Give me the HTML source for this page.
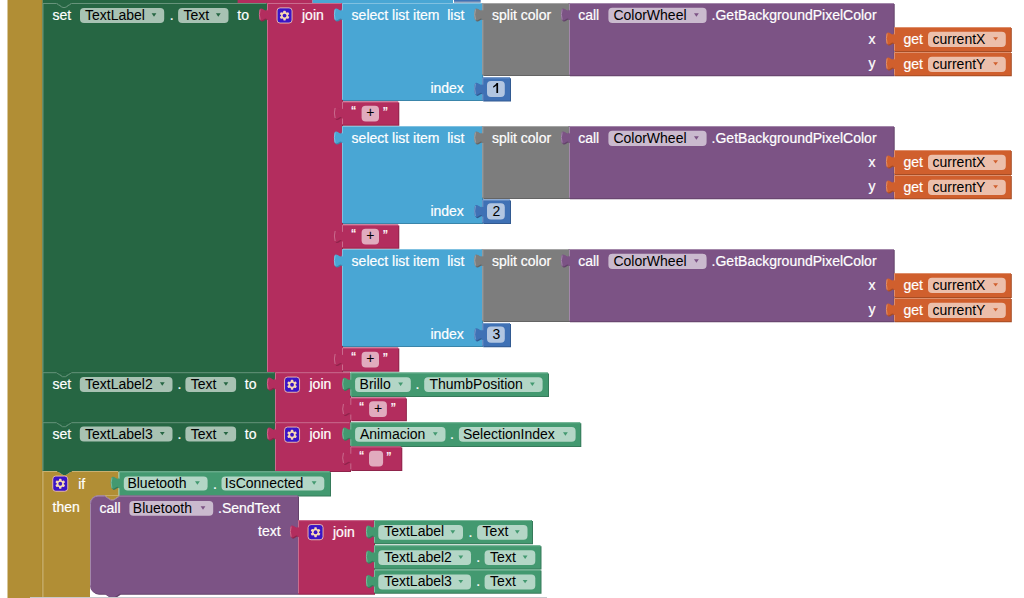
<!DOCTYPE html>
<html><head><meta charset="utf-8"><style>
html,body{margin:0;padding:0;background:#fff;width:1024px;height:598px;overflow:hidden}
svg{display:block}
text{font-family:"Liberation Sans",sans-serif;}
</style></head><body>
<svg width="1024" height="598" viewBox="0 0 1024 598">
<rect x="7.5" y="0" width="35" height="598" fill="#b18e35"/>
<rect x="41.6" y="0" width="0.8" height="598" fill="#a8842a"/>
<rect x="42.5" y="0" width="195.5" height="3" fill="#266643"/>
<rect x="237.6" y="0" width="75" height="3" fill="#b32d5e"/>
<rect x="312.6" y="0" width="140.4" height="3" fill="#49a6d4"/>
<rect x="454" y="0" width="26.7" height="1.6" fill="#3f71b5"/>
<rect x="454" y="1.6" width="26.7" height="0.9" fill="#325a91"/>
<path d="M 42.5,3 H 56.5 l 6,4 3,0 6,-4 H 267 V 372.2 H 42.5 Z" fill="#1e5236" transform="translate(1,1)"/>
<path d="M 42.5,3 H 56.5 l 6,4 3,0 6,-4 H 267 V 372.2 H 42.5 Z" fill="#266643"/>
<path d="M 43,3.5 H 56.5 l 6,4 3,0 6,-4 H 266.5 M 43,3.5 V 371.7" fill="none" stroke="#67947b" stroke-width="1"/>
<path d="M 56.5,2.99 l 6,4 3,0 6,-4 z" fill="#266643"/>
<text x="52.5" y="19.5" fill="#fff" font-size="14" stroke="#fff" stroke-width="0.2">set</text>
<rect x="80" y="7.9" width="84.2" height="15.1" rx="4" ry="4" fill="#fff" fill-opacity="0.6"/>
<text x="85" y="19.5" fill="#000" font-size="14">TextLabel</text>
<path d="M 151.6,13.35 h 4.8 l -2.4,3.4 z" fill="#266643"/>
<text x="169.8" y="19.5" fill="#fff" font-size="14" stroke="#fff" stroke-width="0.2">.</text>
<rect x="178.1" y="7.9" width="50.4" height="15.1" rx="4" ry="4" fill="#fff" fill-opacity="0.6"/>
<text x="183.5" y="19.5" fill="#000" font-size="14">Text</text>
<path d="M 215.9,13.35 h 4.8 l -2.4,3.4 z" fill="#266643"/>
<text x="237.3" y="19.5" fill="#fff" font-size="14" stroke="#fff" stroke-width="0.2">to</text>
<path d="M 267,3 H 342 V 372.2 H 267 V 21.4 c 0,-9.2 -8,7.36 -8,-6.9 s 8,2.3 8,-6.9 Z" fill="#8f244b" transform="translate(1,1)"/>
<path d="M 267,3 H 342 V 372.2 H 267 V 21.4 c 0,-9.2 -8,7.36 -8,-6.9 s 8,2.3 8,-6.9 Z" fill="#b32d5e"/>
<path d="M 267.5,3.5 H 341.5 M 267.5,371.7 V 20.02 m -7.36,-0.46 q -1.52,-5.06 0,-10.12 m 7.36,0.92 V 3.5" fill="none" stroke="#ca6c8e" stroke-width="1"/>
<rect x="277.05" y="7.85" width="15" height="15.2" rx="3" ry="3" fill="#3a14c6" stroke="#f1c3b0" stroke-width="0.9"/>
<g transform="translate(284.55,15.55)" fill="#f8d9b2"><circle r="3.5"/><rect x="-1.25" y="-4.9" width="2.5" height="2.6" rx="0.6" transform="rotate(0)"/><rect x="-1.25" y="-4.9" width="2.5" height="2.6" rx="0.6" transform="rotate(60)"/><rect x="-1.25" y="-4.9" width="2.5" height="2.6" rx="0.6" transform="rotate(120)"/><rect x="-1.25" y="-4.9" width="2.5" height="2.6" rx="0.6" transform="rotate(180)"/><rect x="-1.25" y="-4.9" width="2.5" height="2.6" rx="0.6" transform="rotate(240)"/><rect x="-1.25" y="-4.9" width="2.5" height="2.6" rx="0.6" transform="rotate(300)"/><circle r="1.9" fill="#3a14c6"/></g>
<text x="302" y="19.5" fill="#fff" font-size="14" stroke="#fff" stroke-width="0.2">join</text>
<path d="M 342,3 H 482.2 V 100 H 342 V 21.4 c 0,-9.2 -8,7.36 -8,-6.9 s 8,2.3 8,-6.9 Z" fill="#3a85aa" transform="translate(1,1)"/>
<path d="M 342,3 H 482.2 V 100 H 342 V 21.4 c 0,-9.2 -8,7.36 -8,-6.9 s 8,2.3 8,-6.9 Z" fill="#49a6d4"/>
<path d="M 342.5,3.5 H 481.7 M 342.5,99.5 V 20.02 m -7.36,-0.46 q -1.52,-5.06 0,-10.12 m 7.36,0.92 V 3.5" fill="none" stroke="#80c1e1" stroke-width="1"/>
<text x="351.6" y="19.5" fill="#fff" font-size="14" stroke="#fff" stroke-width="0.2">select list item</text>
<text x="447.2" y="19.5" fill="#fff" font-size="14" stroke="#fff" stroke-width="0.2">list</text>
<text x="430.4" y="93" fill="#fff" font-size="14" stroke="#fff" stroke-width="0.2">index</text>
<path d="M 482.3,3 H 569 V 75 H 482.3 V 21.4 c 0,-9.2 -8,7.36 -8,-6.9 s 8,2.3 8,-6.9 Z" fill="#646464" transform="translate(1,1)"/>
<path d="M 482.3,3 H 569 V 75 H 482.3 V 21.4 c 0,-9.2 -8,7.36 -8,-6.9 s 8,2.3 8,-6.9 Z" fill="#7d7d7d"/>
<path d="M 482.8,3.5 H 568.5 M 482.8,74.5 V 20.02 m -7.36,-0.46 q -1.52,-5.06 0,-10.12 m 7.36,0.92 V 3.5" fill="none" stroke="#a4a4a4" stroke-width="1"/>
<text x="492" y="19.5" fill="#fff" font-size="14" stroke="#fff" stroke-width="0.2">split color</text>
<path d="M 569,3 H 893.7 V 75.2 H 569 V 21.4 c 0,-9.2 -8,7.36 -8,-6.9 s 8,2.3 8,-6.9 Z" fill="#63426a" transform="translate(1,1)"/>
<path d="M 569,3 H 893.7 V 75.2 H 569 V 21.4 c 0,-9.2 -8,7.36 -8,-6.9 s 8,2.3 8,-6.9 Z" fill="#7c5385"/>
<path d="M 569.5,3.5 H 893.2 M 569.5,74.7 V 20.02 m -7.36,-0.46 q -1.52,-5.06 0,-10.12 m 7.36,0.92 V 3.5" fill="none" stroke="#a387aa" stroke-width="1"/>
<text x="578.2" y="19.5" fill="#fff" font-size="14" stroke="#fff" stroke-width="0.2">call</text>
<rect x="608.4" y="7.7" width="98.2" height="15.3" rx="4" ry="4" fill="#fff" fill-opacity="0.6"/>
<text x="613.4" y="19.5" fill="#000" font-size="14">ColorWheel</text>
<path d="M 694,13.25 h 4.8 l -2.4,3.4 z" fill="#7c5385"/>
<text x="711.6" y="19.5" fill="#fff" font-size="14" stroke="#fff" stroke-width="0.2">.GetBackgroundPixelColor</text>
<text x="868.4" y="43.5" fill="#fff" font-size="14" stroke="#fff" stroke-width="0.2">x</text>
<text x="868.4" y="68" fill="#fff" font-size="14" stroke="#fff" stroke-width="0.2">y</text>
<path d="M 894,27 H 1010.8 V 51 H 894 V 45.4 c 0,-9.2 -8,7.36 -8,-6.9 s 8,2.3 8,-6.9 Z" fill="#a64c24" transform="translate(1,1)"/>
<path d="M 894,27 H 1010.8 V 51 H 894 V 45.4 c 0,-9.2 -8,7.36 -8,-6.9 s 8,2.3 8,-6.9 Z" fill="#d05f2d"/>
<path d="M 894.5,27.5 H 1010.3 M 894.5,50.5 V 44.02 m -7.36,-0.46 q -1.52,-5.06 0,-10.12 m 7.36,0.92 V 27.5" fill="none" stroke="#de8f6c" stroke-width="1"/>
<text x="903.5" y="43.9" fill="#fff" font-size="14" stroke="#fff" stroke-width="0.2">get</text>
<rect x="928" y="31.7" width="77.8" height="15.2" rx="4" ry="4" fill="#fff" fill-opacity="0.6"/>
<text x="932.5" y="43.9" fill="#000" font-size="14">currentX</text>
<path d="M 993.2,37.2 h 4.8 l -2.4,3.4 z" fill="#d05f2d"/>
<path d="M 894,52 H 1010.8 V 75.2 H 894 V 70.4 c 0,-9.2 -8,7.36 -8,-6.9 s 8,2.3 8,-6.9 Z" fill="#a64c24" transform="translate(1,1)"/>
<path d="M 894,52 H 1010.8 V 75.2 H 894 V 70.4 c 0,-9.2 -8,7.36 -8,-6.9 s 8,2.3 8,-6.9 Z" fill="#d05f2d"/>
<path d="M 894.5,52.5 H 1010.3 M 894.5,74.7 V 69.02 m -7.36,-0.46 q -1.52,-5.06 0,-10.12 m 7.36,0.92 V 52.5" fill="none" stroke="#de8f6c" stroke-width="1"/>
<text x="903.5" y="68.9" fill="#fff" font-size="14" stroke="#fff" stroke-width="0.2">get</text>
<rect x="928" y="56.7" width="77.8" height="15.2" rx="4" ry="4" fill="#fff" fill-opacity="0.6"/>
<text x="932.5" y="68.9" fill="#000" font-size="14">currentY</text>
<path d="M 993.2,62.2 h 4.8 l -2.4,3.4 z" fill="#d05f2d"/>
<path d="M 482.3,77.3 H 510 V 100.6 H 482.3 V 95.7 c 0,-9.2 -8,7.36 -8,-6.9 s 8,2.3 8,-6.9 Z" fill="#325a91" transform="translate(1,1)"/>
<path d="M 482.3,77.3 H 510 V 100.6 H 482.3 V 95.7 c 0,-9.2 -8,7.36 -8,-6.9 s 8,2.3 8,-6.9 Z" fill="#3f71b5"/>
<path d="M 482.8,77.8 H 509.5 M 482.8,100.1 V 94.32 m -7.36,-0.46 q -1.52,-5.06 0,-10.12 m 7.36,0.92 V 77.8" fill="none" stroke="#799ccb" stroke-width="1"/>
<rect x="487" y="81" width="17.8" height="16.1" rx="4" ry="4" fill="#fff" fill-opacity="0.6"/>
<path d="M 496.5,83.1 L 498.1,83.1 L 498.1,93 L 496.4,93 L 496.4,85.6 C 495.6,86.4 494.3,87.2 493.2,87.7 L 493.2,86.2 C 494.7,85.5 495.9,84.3 496.5,83.1 Z" fill="#000"/>
<path d="M 342,101.5 H 398.3 V 124.7 H 342 V 119.9 c 0,-9.2 -8,7.36 -8,-6.9 s 8,2.3 8,-6.9 Z" fill="#8f244b" transform="translate(1,1)"/>
<path d="M 342,101.5 H 398.3 V 124.7 H 342 V 119.9 c 0,-9.2 -8,7.36 -8,-6.9 s 8,2.3 8,-6.9 Z" fill="#b32d5e"/>
<path d="M 342.5,102 H 397.8 M 342.5,124.2 V 118.52 m -7.36,-0.46 q -1.52,-5.06 0,-10.12 m 7.36,0.92 V 102" fill="none" stroke="#ca6c8e" stroke-width="1"/>
<text x="351.3" y="116.2" fill="#fff" font-size="14" stroke="#fff" stroke-width="0.2">“</text>
<text x="382.9" y="117.1" fill="#fff" font-size="14" stroke="#fff" stroke-width="0.2">”</text>
<rect x="361.6" y="105.7" width="17.4" height="15.7" rx="4" ry="4" fill="#fff" fill-opacity="0.6"/>
<text x="370.3" y="116.7" fill="#000" font-size="14" text-anchor="middle">+</text>
<path d="M 342,126 H 482.2 V 223 H 342 V 144.4 c 0,-9.2 -8,7.36 -8,-6.9 s 8,2.3 8,-6.9 Z" fill="#3a85aa" transform="translate(1,1)"/>
<path d="M 342,126 H 482.2 V 223 H 342 V 144.4 c 0,-9.2 -8,7.36 -8,-6.9 s 8,2.3 8,-6.9 Z" fill="#49a6d4"/>
<path d="M 342.5,126.5 H 481.7 M 342.5,222.5 V 143.02 m -7.36,-0.46 q -1.52,-5.06 0,-10.12 m 7.36,0.92 V 126.5" fill="none" stroke="#80c1e1" stroke-width="1"/>
<text x="351.6" y="142.5" fill="#fff" font-size="14" stroke="#fff" stroke-width="0.2">select list item</text>
<text x="447.2" y="142.5" fill="#fff" font-size="14" stroke="#fff" stroke-width="0.2">list</text>
<text x="430.4" y="216" fill="#fff" font-size="14" stroke="#fff" stroke-width="0.2">index</text>
<path d="M 482.3,126 H 569 V 198 H 482.3 V 144.4 c 0,-9.2 -8,7.36 -8,-6.9 s 8,2.3 8,-6.9 Z" fill="#646464" transform="translate(1,1)"/>
<path d="M 482.3,126 H 569 V 198 H 482.3 V 144.4 c 0,-9.2 -8,7.36 -8,-6.9 s 8,2.3 8,-6.9 Z" fill="#7d7d7d"/>
<path d="M 482.8,126.5 H 568.5 M 482.8,197.5 V 143.02 m -7.36,-0.46 q -1.52,-5.06 0,-10.12 m 7.36,0.92 V 126.5" fill="none" stroke="#a4a4a4" stroke-width="1"/>
<text x="492" y="142.5" fill="#fff" font-size="14" stroke="#fff" stroke-width="0.2">split color</text>
<path d="M 569,126 H 893.7 V 198.2 H 569 V 144.4 c 0,-9.2 -8,7.36 -8,-6.9 s 8,2.3 8,-6.9 Z" fill="#63426a" transform="translate(1,1)"/>
<path d="M 569,126 H 893.7 V 198.2 H 569 V 144.4 c 0,-9.2 -8,7.36 -8,-6.9 s 8,2.3 8,-6.9 Z" fill="#7c5385"/>
<path d="M 569.5,126.5 H 893.2 M 569.5,197.7 V 143.02 m -7.36,-0.46 q -1.52,-5.06 0,-10.12 m 7.36,0.92 V 126.5" fill="none" stroke="#a387aa" stroke-width="1"/>
<text x="578.2" y="142.5" fill="#fff" font-size="14" stroke="#fff" stroke-width="0.2">call</text>
<rect x="608.4" y="130.7" width="98.2" height="15.3" rx="4" ry="4" fill="#fff" fill-opacity="0.6"/>
<text x="613.4" y="142.5" fill="#000" font-size="14">ColorWheel</text>
<path d="M 694,136.25 h 4.8 l -2.4,3.4 z" fill="#7c5385"/>
<text x="711.6" y="142.5" fill="#fff" font-size="14" stroke="#fff" stroke-width="0.2">.GetBackgroundPixelColor</text>
<text x="868.4" y="166.5" fill="#fff" font-size="14" stroke="#fff" stroke-width="0.2">x</text>
<text x="868.4" y="191" fill="#fff" font-size="14" stroke="#fff" stroke-width="0.2">y</text>
<path d="M 894,150 H 1010.8 V 174 H 894 V 168.4 c 0,-9.2 -8,7.36 -8,-6.9 s 8,2.3 8,-6.9 Z" fill="#a64c24" transform="translate(1,1)"/>
<path d="M 894,150 H 1010.8 V 174 H 894 V 168.4 c 0,-9.2 -8,7.36 -8,-6.9 s 8,2.3 8,-6.9 Z" fill="#d05f2d"/>
<path d="M 894.5,150.5 H 1010.3 M 894.5,173.5 V 167.02 m -7.36,-0.46 q -1.52,-5.06 0,-10.12 m 7.36,0.92 V 150.5" fill="none" stroke="#de8f6c" stroke-width="1"/>
<text x="903.5" y="166.9" fill="#fff" font-size="14" stroke="#fff" stroke-width="0.2">get</text>
<rect x="928" y="154.7" width="77.8" height="15.2" rx="4" ry="4" fill="#fff" fill-opacity="0.6"/>
<text x="932.5" y="166.9" fill="#000" font-size="14">currentX</text>
<path d="M 993.2,160.2 h 4.8 l -2.4,3.4 z" fill="#d05f2d"/>
<path d="M 894,175 H 1010.8 V 198.2 H 894 V 193.4 c 0,-9.2 -8,7.36 -8,-6.9 s 8,2.3 8,-6.9 Z" fill="#a64c24" transform="translate(1,1)"/>
<path d="M 894,175 H 1010.8 V 198.2 H 894 V 193.4 c 0,-9.2 -8,7.36 -8,-6.9 s 8,2.3 8,-6.9 Z" fill="#d05f2d"/>
<path d="M 894.5,175.5 H 1010.3 M 894.5,197.7 V 192.02 m -7.36,-0.46 q -1.52,-5.06 0,-10.12 m 7.36,0.92 V 175.5" fill="none" stroke="#de8f6c" stroke-width="1"/>
<text x="903.5" y="191.9" fill="#fff" font-size="14" stroke="#fff" stroke-width="0.2">get</text>
<rect x="928" y="179.7" width="77.8" height="15.2" rx="4" ry="4" fill="#fff" fill-opacity="0.6"/>
<text x="932.5" y="191.9" fill="#000" font-size="14">currentY</text>
<path d="M 993.2,185.2 h 4.8 l -2.4,3.4 z" fill="#d05f2d"/>
<path d="M 482.3,199.6 H 510 V 222.9 H 482.3 V 218 c 0,-9.2 -8,7.36 -8,-6.9 s 8,2.3 8,-6.9 Z" fill="#325a91" transform="translate(1,1)"/>
<path d="M 482.3,199.6 H 510 V 222.9 H 482.3 V 218 c 0,-9.2 -8,7.36 -8,-6.9 s 8,2.3 8,-6.9 Z" fill="#3f71b5"/>
<path d="M 482.8,200.1 H 509.5 M 482.8,222.4 V 216.62 m -7.36,-0.46 q -1.52,-5.06 0,-10.12 m 7.36,0.92 V 200.1" fill="none" stroke="#799ccb" stroke-width="1"/>
<rect x="487" y="203.3" width="17.8" height="16.1" rx="4" ry="4" fill="#fff" fill-opacity="0.6"/>
<text x="492.5" y="215.9" fill="#000" font-size="14">2</text>
<path d="M 342,224.5 H 398.3 V 247.7 H 342 V 242.9 c 0,-9.2 -8,7.36 -8,-6.9 s 8,2.3 8,-6.9 Z" fill="#8f244b" transform="translate(1,1)"/>
<path d="M 342,224.5 H 398.3 V 247.7 H 342 V 242.9 c 0,-9.2 -8,7.36 -8,-6.9 s 8,2.3 8,-6.9 Z" fill="#b32d5e"/>
<path d="M 342.5,225 H 397.8 M 342.5,247.2 V 241.52 m -7.36,-0.46 q -1.52,-5.06 0,-10.12 m 7.36,0.92 V 225" fill="none" stroke="#ca6c8e" stroke-width="1"/>
<text x="351.3" y="239.2" fill="#fff" font-size="14" stroke="#fff" stroke-width="0.2">“</text>
<text x="382.9" y="240.1" fill="#fff" font-size="14" stroke="#fff" stroke-width="0.2">”</text>
<rect x="361.6" y="228.7" width="17.4" height="15.7" rx="4" ry="4" fill="#fff" fill-opacity="0.6"/>
<text x="370.3" y="239.7" fill="#000" font-size="14" text-anchor="middle">+</text>
<path d="M 342,249 H 482.2 V 346 H 342 V 267.4 c 0,-9.2 -8,7.36 -8,-6.9 s 8,2.3 8,-6.9 Z" fill="#3a85aa" transform="translate(1,1)"/>
<path d="M 342,249 H 482.2 V 346 H 342 V 267.4 c 0,-9.2 -8,7.36 -8,-6.9 s 8,2.3 8,-6.9 Z" fill="#49a6d4"/>
<path d="M 342.5,249.5 H 481.7 M 342.5,345.5 V 266.02 m -7.36,-0.46 q -1.52,-5.06 0,-10.12 m 7.36,0.92 V 249.5" fill="none" stroke="#80c1e1" stroke-width="1"/>
<text x="351.6" y="265.5" fill="#fff" font-size="14" stroke="#fff" stroke-width="0.2">select list item</text>
<text x="447.2" y="265.5" fill="#fff" font-size="14" stroke="#fff" stroke-width="0.2">list</text>
<text x="430.4" y="339" fill="#fff" font-size="14" stroke="#fff" stroke-width="0.2">index</text>
<path d="M 482.3,249 H 569 V 321 H 482.3 V 267.4 c 0,-9.2 -8,7.36 -8,-6.9 s 8,2.3 8,-6.9 Z" fill="#646464" transform="translate(1,1)"/>
<path d="M 482.3,249 H 569 V 321 H 482.3 V 267.4 c 0,-9.2 -8,7.36 -8,-6.9 s 8,2.3 8,-6.9 Z" fill="#7d7d7d"/>
<path d="M 482.8,249.5 H 568.5 M 482.8,320.5 V 266.02 m -7.36,-0.46 q -1.52,-5.06 0,-10.12 m 7.36,0.92 V 249.5" fill="none" stroke="#a4a4a4" stroke-width="1"/>
<text x="492" y="265.5" fill="#fff" font-size="14" stroke="#fff" stroke-width="0.2">split color</text>
<path d="M 569,249 H 893.7 V 321.2 H 569 V 267.4 c 0,-9.2 -8,7.36 -8,-6.9 s 8,2.3 8,-6.9 Z" fill="#63426a" transform="translate(1,1)"/>
<path d="M 569,249 H 893.7 V 321.2 H 569 V 267.4 c 0,-9.2 -8,7.36 -8,-6.9 s 8,2.3 8,-6.9 Z" fill="#7c5385"/>
<path d="M 569.5,249.5 H 893.2 M 569.5,320.7 V 266.02 m -7.36,-0.46 q -1.52,-5.06 0,-10.12 m 7.36,0.92 V 249.5" fill="none" stroke="#a387aa" stroke-width="1"/>
<text x="578.2" y="265.5" fill="#fff" font-size="14" stroke="#fff" stroke-width="0.2">call</text>
<rect x="608.4" y="253.7" width="98.2" height="15.3" rx="4" ry="4" fill="#fff" fill-opacity="0.6"/>
<text x="613.4" y="265.5" fill="#000" font-size="14">ColorWheel</text>
<path d="M 694,259.25 h 4.8 l -2.4,3.4 z" fill="#7c5385"/>
<text x="711.6" y="265.5" fill="#fff" font-size="14" stroke="#fff" stroke-width="0.2">.GetBackgroundPixelColor</text>
<text x="868.4" y="289.5" fill="#fff" font-size="14" stroke="#fff" stroke-width="0.2">x</text>
<text x="868.4" y="314" fill="#fff" font-size="14" stroke="#fff" stroke-width="0.2">y</text>
<path d="M 894,273 H 1010.8 V 297 H 894 V 291.4 c 0,-9.2 -8,7.36 -8,-6.9 s 8,2.3 8,-6.9 Z" fill="#a64c24" transform="translate(1,1)"/>
<path d="M 894,273 H 1010.8 V 297 H 894 V 291.4 c 0,-9.2 -8,7.36 -8,-6.9 s 8,2.3 8,-6.9 Z" fill="#d05f2d"/>
<path d="M 894.5,273.5 H 1010.3 M 894.5,296.5 V 290.02 m -7.36,-0.46 q -1.52,-5.06 0,-10.12 m 7.36,0.92 V 273.5" fill="none" stroke="#de8f6c" stroke-width="1"/>
<text x="903.5" y="289.9" fill="#fff" font-size="14" stroke="#fff" stroke-width="0.2">get</text>
<rect x="928" y="277.7" width="77.8" height="15.2" rx="4" ry="4" fill="#fff" fill-opacity="0.6"/>
<text x="932.5" y="289.9" fill="#000" font-size="14">currentX</text>
<path d="M 993.2,283.2 h 4.8 l -2.4,3.4 z" fill="#d05f2d"/>
<path d="M 894,298 H 1010.8 V 321.2 H 894 V 316.4 c 0,-9.2 -8,7.36 -8,-6.9 s 8,2.3 8,-6.9 Z" fill="#a64c24" transform="translate(1,1)"/>
<path d="M 894,298 H 1010.8 V 321.2 H 894 V 316.4 c 0,-9.2 -8,7.36 -8,-6.9 s 8,2.3 8,-6.9 Z" fill="#d05f2d"/>
<path d="M 894.5,298.5 H 1010.3 M 894.5,320.7 V 315.02 m -7.36,-0.46 q -1.52,-5.06 0,-10.12 m 7.36,0.92 V 298.5" fill="none" stroke="#de8f6c" stroke-width="1"/>
<text x="903.5" y="314.9" fill="#fff" font-size="14" stroke="#fff" stroke-width="0.2">get</text>
<rect x="928" y="302.7" width="77.8" height="15.2" rx="4" ry="4" fill="#fff" fill-opacity="0.6"/>
<text x="932.5" y="314.9" fill="#000" font-size="14">currentY</text>
<path d="M 993.2,308.2 h 4.8 l -2.4,3.4 z" fill="#d05f2d"/>
<path d="M 482.3,322.9 H 510 V 346.2 H 482.3 V 341.3 c 0,-9.2 -8,7.36 -8,-6.9 s 8,2.3 8,-6.9 Z" fill="#325a91" transform="translate(1,1)"/>
<path d="M 482.3,322.9 H 510 V 346.2 H 482.3 V 341.3 c 0,-9.2 -8,7.36 -8,-6.9 s 8,2.3 8,-6.9 Z" fill="#3f71b5"/>
<path d="M 482.8,323.4 H 509.5 M 482.8,345.7 V 339.92 m -7.36,-0.46 q -1.52,-5.06 0,-10.12 m 7.36,0.92 V 323.4" fill="none" stroke="#799ccb" stroke-width="1"/>
<rect x="487" y="326.6" width="17.8" height="16.1" rx="4" ry="4" fill="#fff" fill-opacity="0.6"/>
<text x="492.5" y="339.2" fill="#000" font-size="14">3</text>
<path d="M 342,347.5 H 398.3 V 370.7 H 342 V 365.9 c 0,-9.2 -8,7.36 -8,-6.9 s 8,2.3 8,-6.9 Z" fill="#8f244b" transform="translate(1,1)"/>
<path d="M 342,347.5 H 398.3 V 370.7 H 342 V 365.9 c 0,-9.2 -8,7.36 -8,-6.9 s 8,2.3 8,-6.9 Z" fill="#b32d5e"/>
<path d="M 342.5,348 H 397.8 M 342.5,370.2 V 364.52 m -7.36,-0.46 q -1.52,-5.06 0,-10.12 m 7.36,0.92 V 348" fill="none" stroke="#ca6c8e" stroke-width="1"/>
<text x="351.3" y="362.2" fill="#fff" font-size="14" stroke="#fff" stroke-width="0.2">“</text>
<text x="382.9" y="363.1" fill="#fff" font-size="14" stroke="#fff" stroke-width="0.2">”</text>
<rect x="361.6" y="351.7" width="17.4" height="15.7" rx="4" ry="4" fill="#fff" fill-opacity="0.6"/>
<text x="370.3" y="362.7" fill="#000" font-size="14" text-anchor="middle">+</text>
<path d="M 42.5,372.2 H 56.5 l 6,4 3,0 6,-4 H 275 V 422.2 H 42.5 Z" fill="#1e5236" transform="translate(1,1)"/>
<path d="M 42.5,372.2 H 56.5 l 6,4 3,0 6,-4 H 275 V 422.2 H 42.5 Z" fill="#266643"/>
<path d="M 43,372.7 H 56.5 l 6,4 3,0 6,-4 H 274.5 M 43,372.7 V 421.7" fill="none" stroke="#67947b" stroke-width="1"/>
<path d="M 56.5,372.19 l 6,4 3,0 6,-4 z" fill="#266643"/>
<text x="52.5" y="388.9" fill="#fff" font-size="14" stroke="#fff" stroke-width="0.2">set</text>
<rect x="79.8" y="376.9" width="92.7" height="15.1" rx="4" ry="4" fill="#fff" fill-opacity="0.6"/>
<text x="85" y="388.9" fill="#000" font-size="14">TextLabel2</text>
<path d="M 159.9,382.35 h 4.8 l -2.4,3.4 z" fill="#266643"/>
<text x="177.5" y="388.9" fill="#fff" font-size="14" stroke="#fff" stroke-width="0.2">.</text>
<rect x="185.4" y="376.9" width="50.7" height="15.1" rx="4" ry="4" fill="#fff" fill-opacity="0.6"/>
<text x="190.8" y="388.9" fill="#000" font-size="14">Text</text>
<path d="M 223.5,382.35 h 4.8 l -2.4,3.4 z" fill="#266643"/>
<text x="244.8" y="388.9" fill="#fff" font-size="14" stroke="#fff" stroke-width="0.2">to</text>
<path d="M 275,372.2 H 350 V 422.2 H 275 V 390.6 c 0,-9.2 -8,7.36 -8,-6.9 s 8,2.3 8,-6.9 Z" fill="#8f244b" transform="translate(1,1)"/>
<path d="M 275,372.2 H 350 V 422.2 H 275 V 390.6 c 0,-9.2 -8,7.36 -8,-6.9 s 8,2.3 8,-6.9 Z" fill="#b32d5e"/>
<path d="M 275.5,372.7 H 349.5 M 275.5,421.7 V 389.22 m -7.36,-0.46 q -1.52,-5.06 0,-10.12 m 7.36,0.92 V 372.7" fill="none" stroke="#ca6c8e" stroke-width="1"/>
<rect x="284.55" y="377.05" width="15" height="15.2" rx="3" ry="3" fill="#3a14c6" stroke="#f1c3b0" stroke-width="0.9"/>
<g transform="translate(292.05,384.75)" fill="#f8d9b2"><circle r="3.5"/><rect x="-1.25" y="-4.9" width="2.5" height="2.6" rx="0.6" transform="rotate(0)"/><rect x="-1.25" y="-4.9" width="2.5" height="2.6" rx="0.6" transform="rotate(60)"/><rect x="-1.25" y="-4.9" width="2.5" height="2.6" rx="0.6" transform="rotate(120)"/><rect x="-1.25" y="-4.9" width="2.5" height="2.6" rx="0.6" transform="rotate(180)"/><rect x="-1.25" y="-4.9" width="2.5" height="2.6" rx="0.6" transform="rotate(240)"/><rect x="-1.25" y="-4.9" width="2.5" height="2.6" rx="0.6" transform="rotate(300)"/><circle r="1.9" fill="#3a14c6"/></g>
<text x="309.5" y="388.9" fill="#fff" font-size="14" stroke="#fff" stroke-width="0.2">join</text>
<path d="M 350.3,372.4 H 548 V 396.1 H 350.3 V 390.8 c 0,-9.2 -8,7.36 -8,-6.9 s 8,2.3 8,-6.9 Z" fill="#367a5a" transform="translate(1,1)"/>
<path d="M 350.3,372.4 H 548 V 396.1 H 350.3 V 390.8 c 0,-9.2 -8,7.36 -8,-6.9 s 8,2.3 8,-6.9 Z" fill="#439970"/>
<path d="M 350.8,372.9 H 547.5 M 350.8,395.6 V 389.42 m -7.36,-0.46 q -1.52,-5.06 0,-10.12 m 7.36,0.92 V 372.9" fill="none" stroke="#7bb89b" stroke-width="1"/>
<rect x="355.1" y="377.3" width="55.7" height="14.6" rx="4" ry="4" fill="#fff" fill-opacity="0.6"/>
<text x="359.6" y="389" fill="#000" font-size="14">Brillo</text>
<path d="M 398.2,382.5 h 4.8 l -2.4,3.4 z" fill="#439970"/>
<text x="415.6" y="389" fill="#fff" font-size="14" stroke="#fff" stroke-width="0.2">.</text>
<rect x="424.2" y="377.3" width="118.4" height="14.6" rx="4" ry="4" fill="#fff" fill-opacity="0.6"/>
<text x="429.5" y="389" fill="#000" font-size="14">ThumbPosition</text>
<path d="M 530,382.5 h 4.8 l -2.4,3.4 z" fill="#439970"/>
<path d="M 350.3,397.5 H 405.9 V 420.3 H 350.3 V 415.9 c 0,-9.2 -8,7.36 -8,-6.9 s 8,2.3 8,-6.9 Z" fill="#8f244b" transform="translate(1,1)"/>
<path d="M 350.3,397.5 H 405.9 V 420.3 H 350.3 V 415.9 c 0,-9.2 -8,7.36 -8,-6.9 s 8,2.3 8,-6.9 Z" fill="#b32d5e"/>
<path d="M 350.8,398 H 405.4 M 350.8,419.8 V 414.52 m -7.36,-0.46 q -1.52,-5.06 0,-10.12 m 7.36,0.92 V 398" fill="none" stroke="#ca6c8e" stroke-width="1"/>
<text x="359.2" y="412.2" fill="#fff" font-size="14" stroke="#fff" stroke-width="0.2">“</text>
<text x="390.9" y="413.1" fill="#fff" font-size="14" stroke="#fff" stroke-width="0.2">”</text>
<rect x="369.1" y="401.3" width="17.8" height="15.6" rx="4" ry="4" fill="#fff" fill-opacity="0.6"/>
<text x="378" y="412.7" fill="#000" font-size="14" text-anchor="middle">+</text>
<path d="M 42.5,422.2 H 56.5 l 6,4 3,0 6,-4 H 275 V 471 H 42.5 Z" fill="#1e5236" transform="translate(1,1)"/>
<path d="M 42.5,422.2 H 56.5 l 6,4 3,0 6,-4 H 275 V 471 H 42.5 Z" fill="#266643"/>
<path d="M 43,422.7 H 56.5 l 6,4 3,0 6,-4 H 274.5 M 43,422.7 V 470.5" fill="none" stroke="#67947b" stroke-width="1"/>
<path d="M 56.5,422.19 l 6,4 3,0 6,-4 z" fill="#266643"/>
<text x="52.5" y="438.9" fill="#fff" font-size="14" stroke="#fff" stroke-width="0.2">set</text>
<rect x="79.8" y="426.4" width="92.7" height="15.2" rx="4" ry="4" fill="#fff" fill-opacity="0.6"/>
<text x="85" y="439" fill="#000" font-size="14">TextLabel3</text>
<path d="M 159.9,431.9 h 4.8 l -2.4,3.4 z" fill="#266643"/>
<text x="177.5" y="438.9" fill="#fff" font-size="14" stroke="#fff" stroke-width="0.2">.</text>
<rect x="185.4" y="426.4" width="50.7" height="15.2" rx="4" ry="4" fill="#fff" fill-opacity="0.6"/>
<text x="190.8" y="439" fill="#000" font-size="14">Text</text>
<path d="M 223.5,431.9 h 4.8 l -2.4,3.4 z" fill="#266643"/>
<text x="244.8" y="438.9" fill="#fff" font-size="14" stroke="#fff" stroke-width="0.2">to</text>
<path d="M 275,422.2 H 350 V 471 H 275 V 440.6 c 0,-9.2 -8,7.36 -8,-6.9 s 8,2.3 8,-6.9 Z" fill="#8f244b" transform="translate(1,1)"/>
<path d="M 275,422.2 H 350 V 471 H 275 V 440.6 c 0,-9.2 -8,7.36 -8,-6.9 s 8,2.3 8,-6.9 Z" fill="#b32d5e"/>
<path d="M 275.5,422.7 H 349.5 M 275.5,470.5 V 439.22 m -7.36,-0.46 q -1.52,-5.06 0,-10.12 m 7.36,0.92 V 422.7" fill="none" stroke="#ca6c8e" stroke-width="1"/>
<rect x="284.55" y="427.05" width="15" height="15.2" rx="3" ry="3" fill="#3a14c6" stroke="#f1c3b0" stroke-width="0.9"/>
<g transform="translate(292.05,434.75)" fill="#f8d9b2"><circle r="3.5"/><rect x="-1.25" y="-4.9" width="2.5" height="2.6" rx="0.6" transform="rotate(0)"/><rect x="-1.25" y="-4.9" width="2.5" height="2.6" rx="0.6" transform="rotate(60)"/><rect x="-1.25" y="-4.9" width="2.5" height="2.6" rx="0.6" transform="rotate(120)"/><rect x="-1.25" y="-4.9" width="2.5" height="2.6" rx="0.6" transform="rotate(180)"/><rect x="-1.25" y="-4.9" width="2.5" height="2.6" rx="0.6" transform="rotate(240)"/><rect x="-1.25" y="-4.9" width="2.5" height="2.6" rx="0.6" transform="rotate(300)"/><circle r="1.9" fill="#3a14c6"/></g>
<text x="309.5" y="438.9" fill="#fff" font-size="14" stroke="#fff" stroke-width="0.2">join</text>
<path d="M 350.3,422.2 H 580.3 V 446.1 H 350.3 V 440.6 c 0,-9.2 -8,7.36 -8,-6.9 s 8,2.3 8,-6.9 Z" fill="#367a5a" transform="translate(1,1)"/>
<path d="M 350.3,422.2 H 580.3 V 446.1 H 350.3 V 440.6 c 0,-9.2 -8,7.36 -8,-6.9 s 8,2.3 8,-6.9 Z" fill="#439970"/>
<path d="M 350.8,422.7 H 579.8 M 350.8,445.6 V 439.22 m -7.36,-0.46 q -1.52,-5.06 0,-10.12 m 7.36,0.92 V 422.7" fill="none" stroke="#7bb89b" stroke-width="1"/>
<rect x="355.1" y="427.1" width="90.4" height="14.6" rx="4" ry="4" fill="#fff" fill-opacity="0.6"/>
<text x="360" y="439" fill="#000" font-size="14">Animacion</text>
<path d="M 432.9,432.3 h 4.8 l -2.4,3.4 z" fill="#439970"/>
<text x="450" y="439" fill="#fff" font-size="14" stroke="#fff" stroke-width="0.2">.</text>
<rect x="458.9" y="427.1" width="116.7" height="14.6" rx="4" ry="4" fill="#fff" fill-opacity="0.6"/>
<text x="463" y="439" fill="#000" font-size="14">SelectionIndex</text>
<path d="M 563,432.3 h 4.8 l -2.4,3.4 z" fill="#439970"/>
<path d="M 350.3,446.4 H 401.3 V 469.9 H 350.3 V 464.8 c 0,-9.2 -8,7.36 -8,-6.9 s 8,2.3 8,-6.9 Z" fill="#8f244b" transform="translate(1,1)"/>
<path d="M 350.3,446.4 H 401.3 V 469.9 H 350.3 V 464.8 c 0,-9.2 -8,7.36 -8,-6.9 s 8,2.3 8,-6.9 Z" fill="#b32d5e"/>
<path d="M 350.8,446.9 H 400.8 M 350.8,469.4 V 463.42 m -7.36,-0.46 q -1.52,-5.06 0,-10.12 m 7.36,0.92 V 446.9" fill="none" stroke="#ca6c8e" stroke-width="1"/>
<text x="359.2" y="461.1" fill="#fff" font-size="14" stroke="#fff" stroke-width="0.2">“</text>
<text x="386.6" y="462" fill="#fff" font-size="14" stroke="#fff" stroke-width="0.2">”</text>
<rect x="369" y="450.8" width="14.1" height="15.8" rx="4" ry="4" fill="#fff" fill-opacity="0.6"/>
<path d="M 42.5,471 H 57 l 6,4 3,0 6,-4 H 118.5 V 495.6 H 98 A 8,8 0 0 0 90,503.6 V 598 H 42.5 Z" fill="#b18e35"/>
<path d="M 43,471 V 598 M 43,471.5 H 57 M 72,471.5 H 118.3" stroke="#c8b072" fill="none"/>
<path d="M 57,470.99 l 6,4 3,0 6,-4 z" fill="#266643"/>
<rect x="52.75" y="476.05" width="15" height="15.2" rx="3" ry="3" fill="#3a14c6" stroke="#f1c3b0" stroke-width="0.9"/>
<g transform="translate(60.25,483.75)" fill="#f8d9b2"><circle r="3.5"/><rect x="-1.25" y="-4.9" width="2.5" height="2.6" rx="0.6" transform="rotate(0)"/><rect x="-1.25" y="-4.9" width="2.5" height="2.6" rx="0.6" transform="rotate(60)"/><rect x="-1.25" y="-4.9" width="2.5" height="2.6" rx="0.6" transform="rotate(120)"/><rect x="-1.25" y="-4.9" width="2.5" height="2.6" rx="0.6" transform="rotate(180)"/><rect x="-1.25" y="-4.9" width="2.5" height="2.6" rx="0.6" transform="rotate(240)"/><rect x="-1.25" y="-4.9" width="2.5" height="2.6" rx="0.6" transform="rotate(300)"/><circle r="1.9" fill="#3a14c6"/></g>
<text x="78.2" y="488.6" fill="#fff" font-size="14" stroke="#fff" stroke-width="0.2">if</text>
<text x="52.5" y="512.2" fill="#fff" font-size="14" stroke="#fff" stroke-width="0.2">then</text>
<path d="M 118.8,471.3 H 330 V 495.5 H 118.8 V 489.7 c 0,-9.2 -8,7.36 -8,-6.9 s 8,2.3 8,-6.9 Z" fill="#367a5a" transform="translate(1,1)"/>
<path d="M 118.8,471.3 H 330 V 495.5 H 118.8 V 489.7 c 0,-9.2 -8,7.36 -8,-6.9 s 8,2.3 8,-6.9 Z" fill="#439970"/>
<path d="M 119.3,471.8 H 329.5 M 119.3,495 V 488.32 m -7.36,-0.46 q -1.52,-5.06 0,-10.12 m 7.36,0.92 V 471.8" fill="none" stroke="#7bb89b" stroke-width="1"/>
<rect x="123.8" y="476.4" width="83.8" height="14" rx="4" ry="4" fill="#fff" fill-opacity="0.6"/>
<text x="127.4" y="488.2" fill="#000" font-size="14">Bluetooth</text>
<path d="M 195,481.3 h 4.8 l -2.4,3.4 z" fill="#439970"/>
<text x="213" y="488.6" fill="#fff" font-size="14" stroke="#fff" stroke-width="0.2">.</text>
<rect x="221.5" y="476.4" width="102.8" height="14" rx="4" ry="4" fill="#fff" fill-opacity="0.6"/>
<text x="224.8" y="488.2" fill="#000" font-size="14">IsConnected</text>
<path d="M 311.7,481.3 h 4.8 l -2.4,3.4 z" fill="#439970"/>
<path d="M 90,503.6 A 8,8 0 0 1 98,495.6 H 104.7 l 6,4 3,0 6,-4 H 298 V 593.7 H 119.7 l -6,4 -3,0 -6,-4 H 98 A 8,8 0 0 1 90,585.7 Z" fill="#63426a" transform="translate(1,1)"/>
<path d="M 90,503.6 A 8,8 0 0 1 98,495.6 H 104.7 l 6,4 3,0 6,-4 H 298 V 593.7 H 119.7 l -6,4 -3,0 -6,-4 H 98 A 8,8 0 0 1 90,585.7 Z" fill="#7c5385"/>
<path d="M 90.5,503.6 A 7.5,7.5 0 0 1 98,496.1 H 104.7 l 6,4 3,0 6,-4 H 297.5 M 90.5,503.6 V 585.7" fill="none" stroke="#a387aa" stroke-width="1"/>
<path d="M 104.7,495.59 l 6,4 3,0 6,-4 z" fill="#b18e35"/>
<text x="99.5" y="513.3" fill="#fff" font-size="14" stroke="#fff" stroke-width="0.2">call</text>
<rect x="129.4" y="501" width="83.8" height="14.8" rx="4" ry="4" fill="#fff" fill-opacity="0.6"/>
<text x="132.8" y="512.9" fill="#000" font-size="14">Bluetooth</text>
<path d="M 200.6,506.3 h 4.8 l -2.4,3.4 z" fill="#7c5385"/>
<text x="218" y="513.3" fill="#fff" font-size="14" stroke="#fff" stroke-width="0.2">.SendText</text>
<text x="258" y="536" fill="#fff" font-size="14" stroke="#fff" stroke-width="0.2">text</text>
<path d="M 298,520.1 H 374 V 593.7 H 298 V 538.5 c 0,-9.2 -8,7.36 -8,-6.9 s 8,2.3 8,-6.9 Z" fill="#8f244b" transform="translate(1,1)"/>
<path d="M 298,520.1 H 374 V 593.7 H 298 V 538.5 c 0,-9.2 -8,7.36 -8,-6.9 s 8,2.3 8,-6.9 Z" fill="#b32d5e"/>
<path d="M 298.5,520.6 H 373.5 M 298.5,593.2 V 537.12 m -7.36,-0.46 q -1.52,-5.06 0,-10.12 m 7.36,0.92 V 520.6" fill="none" stroke="#ca6c8e" stroke-width="1"/>
<rect x="308.05" y="524.55" width="15" height="15.2" rx="3" ry="3" fill="#3a14c6" stroke="#f1c3b0" stroke-width="0.9"/>
<g transform="translate(315.55,532.25)" fill="#f8d9b2"><circle r="3.5"/><rect x="-1.25" y="-4.9" width="2.5" height="2.6" rx="0.6" transform="rotate(0)"/><rect x="-1.25" y="-4.9" width="2.5" height="2.6" rx="0.6" transform="rotate(60)"/><rect x="-1.25" y="-4.9" width="2.5" height="2.6" rx="0.6" transform="rotate(120)"/><rect x="-1.25" y="-4.9" width="2.5" height="2.6" rx="0.6" transform="rotate(180)"/><rect x="-1.25" y="-4.9" width="2.5" height="2.6" rx="0.6" transform="rotate(240)"/><rect x="-1.25" y="-4.9" width="2.5" height="2.6" rx="0.6" transform="rotate(300)"/><circle r="1.9" fill="#3a14c6"/></g>
<text x="333" y="536.6" fill="#fff" font-size="14" stroke="#fff" stroke-width="0.2">join</text>
<path d="M 374,520 H 532 V 543.2 H 374 V 538.4 c 0,-9.2 -8,7.36 -8,-6.9 s 8,2.3 8,-6.9 Z" fill="#367a5a" transform="translate(1,1)"/>
<path d="M 374,520 H 532 V 543.2 H 374 V 538.4 c 0,-9.2 -8,7.36 -8,-6.9 s 8,2.3 8,-6.9 Z" fill="#439970"/>
<path d="M 374.5,520.5 H 531.5 M 374.5,542.7 V 537.02 m -7.36,-0.46 q -1.52,-5.06 0,-10.12 m 7.36,0.92 V 520.5" fill="none" stroke="#7bb89b" stroke-width="1"/>
<rect x="378.3" y="525" width="84.7" height="14.8" rx="4" ry="4" fill="#fff" fill-opacity="0.6"/>
<text x="384.2" y="536.3" fill="#000" font-size="14">TextLabel</text>
<path d="M 450.4,530.3 h 4.8 l -2.4,3.4 z" fill="#439970"/>
<text x="468.5" y="536.6" fill="#fff" font-size="14" stroke="#fff" stroke-width="0.2">.</text>
<rect x="477.1" y="525" width="50.4" height="14.8" rx="4" ry="4" fill="#fff" fill-opacity="0.6"/>
<text x="482.6" y="536.3" fill="#000" font-size="14">Text</text>
<path d="M 514.9,530.3 h 4.8 l -2.4,3.4 z" fill="#439970"/>
<path d="M 374,545.2 H 540.5 V 568.4 H 374 V 563.6 c 0,-9.2 -8,7.36 -8,-6.9 s 8,2.3 8,-6.9 Z" fill="#367a5a" transform="translate(1,1)"/>
<path d="M 374,545.2 H 540.5 V 568.4 H 374 V 563.6 c 0,-9.2 -8,7.36 -8,-6.9 s 8,2.3 8,-6.9 Z" fill="#439970"/>
<path d="M 374.5,545.7 H 540 M 374.5,567.9 V 562.22 m -7.36,-0.46 q -1.52,-5.06 0,-10.12 m 7.36,0.92 V 545.7" fill="none" stroke="#7bb89b" stroke-width="1"/>
<rect x="378.3" y="550.2" width="92.7" height="14.8" rx="4" ry="4" fill="#fff" fill-opacity="0.6"/>
<text x="384.2" y="561.5" fill="#000" font-size="14">TextLabel2</text>
<path d="M 458.4,555.5 h 4.8 l -2.4,3.4 z" fill="#439970"/>
<text x="476.3" y="561.8" fill="#fff" font-size="14" stroke="#fff" stroke-width="0.2">.</text>
<rect x="484.6" y="550.2" width="50.7" height="14.8" rx="4" ry="4" fill="#fff" fill-opacity="0.6"/>
<text x="490.1" y="561.5" fill="#000" font-size="14">Text</text>
<path d="M 522.7,555.5 h 4.8 l -2.4,3.4 z" fill="#439970"/>
<path d="M 374,569.6 H 540.5 V 592.8 H 374 V 588 c 0,-9.2 -8,7.36 -8,-6.9 s 8,2.3 8,-6.9 Z" fill="#367a5a" transform="translate(1,1)"/>
<path d="M 374,569.6 H 540.5 V 592.8 H 374 V 588 c 0,-9.2 -8,7.36 -8,-6.9 s 8,2.3 8,-6.9 Z" fill="#439970"/>
<path d="M 374.5,570.1 H 540 M 374.5,592.3 V 586.62 m -7.36,-0.46 q -1.52,-5.06 0,-10.12 m 7.36,0.92 V 570.1" fill="none" stroke="#7bb89b" stroke-width="1"/>
<rect x="378.3" y="574.6" width="92.7" height="14.8" rx="4" ry="4" fill="#fff" fill-opacity="0.6"/>
<text x="384.2" y="585.9" fill="#000" font-size="14">TextLabel3</text>
<path d="M 458.4,579.9 h 4.8 l -2.4,3.4 z" fill="#439970"/>
<text x="476.3" y="586.2" fill="#fff" font-size="14" stroke="#fff" stroke-width="0.2">.</text>
<rect x="484.6" y="574.6" width="50.7" height="14.8" rx="4" ry="4" fill="#fff" fill-opacity="0.6"/>
<text x="490.1" y="585.9" fill="#000" font-size="14">Text</text>
<path d="M 522.7,579.9 h 4.8 l -2.4,3.4 z" fill="#439970"/>
<rect x="30" y="597" width="517" height="1" fill="#c8c8cc"/>
</svg>
</body></html>
